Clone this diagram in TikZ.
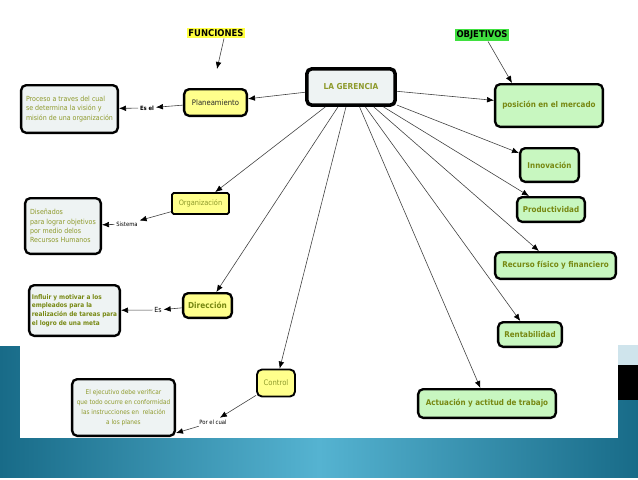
\documentclass[tikz,border=0pt]{standalone}
\usepackage{fontspec}
\setmainfont{DejaVu Sans Condensed}
\usetikzlibrary{positioning,arrows.meta,calc}

\definecolor{oliva}{HTML}{8E9A2C}
\definecolor{olivaosc}{HTML}{778812}
\definecolor{gris}{HTML}{EEF3F3}
\definecolor{amarillo}{HTML}{FFFF8C}
\definecolor{verde}{HTML}{C8F7C0}
\definecolor{resalteam}{HTML}{FFFF40}
\definecolor{resaltever}{HTML}{3FE03F}
\definecolor{azulosc}{HTML}{186B88}
\definecolor{azulcla}{HTML}{55B3D1}
\definecolor{celeste}{HTML}{CFE4EC}

\begin{document}
\begin{tikzpicture}[
  x=0.3mm, y=-0.3mm,
  every node/.style={font=\fontsize{6}{8}\selectfont},
  caja/.style={draw, line width=2pt, rounded corners=1.5mm, fill=gris, text=oliva, inner sep=2pt, align=center},
  defi/.style={caja, align=left},
  fun/.style={caja, fill=amarillo},
  obj/.style={caja, fill=verde, text=olivaosc, font=\fontsize{6.8}{8}\selectfont\bfseries},
  lbl/.style={inner sep=1.5pt, font=\fontsize{5}{6}\selectfont},
  tit/.style={inner sep=1.5pt, font=\fontsize{8}{9}\selectfont\bfseries},
  arr/.style={-{Latex[length=2.1mm,width=1.7mm,color=black]}, line width=0.5pt, black!75},
]
\useasboundingbox (0,0) rectangle (638,479);
% fondo de la diapositiva
\fill[white] (0,0) rectangle (638,479);
\shade[left color=azulosc, right color=azulosc, middle color=azulcla] (0,346) rectangle (638,477);
\fill[celeste] (618,345) rectangle (638,365);
\fill[black] (618,365) rectangle (638,400);
\fill[white] (20,0) rectangle (618,438);

% centro
\node[caja, line width=3pt, minimum width=26.5mm, minimum height=10.9mm, font=\fontsize{7}{8}\selectfont\bfseries] (ger) at (351,87) {LA GERENCIA};

% funciones
\node[tit, fill=resalteam] (funt) at (216,33) {FUNCIONES};
\coordinate (fpunta) at (217,69);
\node[fun, text=black!85, font=\fontsize{6.5}{8}\selectfont, minimum width=18.8mm, minimum height=8mm] (plan) at (215.5,102.5) {Planeamiento};
\node[fun, line width=1.6pt, rounded corners=0.5mm, font=\fontsize{6.3}{8}\selectfont, minimum width=17.1mm, minimum height=6.3mm] (org) at (200.5,203.5) {Organización};
\node[fun, text=olivaosc, font=\fontsize{7}{8}\selectfont\bfseries, minimum width=14.6mm, minimum height=7.4mm] (dir) at (207.5,305.5) {Dirección};
\node[fun, line width=1.6pt, font=\fontsize{6.5}{8}\selectfont, minimum width=11.4mm, minimum height=8.1mm] (ctrl) at (276,383) {Control};

\node[defi, minimum width=29mm, minimum height=14.3mm] (proc) at (69.5,109) {Proceso a traves del cual\\se determina la visión y\\misión de una organización};
\node[defi, minimum width=22.7mm, minimum height=16.7mm] (dis) at (63,226) {Diseñados\\para lograr objetivos\\por medio delos\\Recursos Humanos};
\node[defi, text=olivaosc, font=\fontsize{5.5}{7.5}\selectfont\bfseries, minimum width=27.2mm, minimum height=15.2mm] (infl) at (74.5,310.5) {Influir y motivar a los\\empleados para la\\realización de tareas para\\el logro de una meta};
\node[caja, font=\fontsize{5.5}{8.5}\selectfont, minimum width=30.8mm, minimum height=17mm] (ejec) at (123.5,407.5) {El ejecutivo debe verificar\\que todo ocurre en conformidad\\las instrucciones en\ \ relación\\a los planes};

\node[lbl, font=\fontsize{5}{6}\selectfont\bfseries] (esel) at (147,108) {Es el};
\node[lbl] (sist) at (127,224) {Sistema};
\node[lbl, font=\fontsize{6}{7}\selectfont] (es) at (158,310) {Es};
\node[lbl] (porel) at (213,422) {Por el cual};

% objetivos
\node[tit, fill=resaltever] (objt) at (482,35) {OBJETIVOS};
\node[obj, minimum width=32.3mm, minimum height=12.8mm] (pos) at (549,105.5) {posición en el mercado};
\node[obj, minimum width=17.6mm, minimum height=10.1mm] (inno) at (549.5,165) {Innovación};
\node[obj, minimum width=20.3mm, minimum height=7.4mm] (prod) at (551,209.5) {Productividad};
\node[obj, minimum width=36.2mm, minimum height=8mm] (recu) at (555.5,265.5) {Recurso físico y financiero};
\node[obj, minimum width=19.1mm, minimum height=7.4mm] (rent) at (530,334.5) {Rentabilidad};
\node[obj, minimum width=41.3mm, minimum height=8.6mm] (actu) at (487,403.5) {Actuación y actitud de trabajo};

% conectores
\draw[arr] ([xshift=2.4mm]funt.south) -- (fpunta);
\draw[arr] ([xshift=1.8mm]objt.south) -- ([xshift=5.4mm]pos.north west);
\draw[arr] (ger) -- (plan);
\draw[arr] (ger) -- (org);
\draw[arr] (ger) -- (dir);
\draw[arr] (ger) -- (ctrl);
\draw[arr] (ger) -- (pos);
\draw[arr] (ger) -- (inno);
\draw[arr] (ger) -- (prod);
\draw[arr] (ger) -- (recu);
\draw[arr] (ger) -- (rent);
\draw[arr] (ger) -- (actu);
\draw[arr] (plan) -- (esel);
\draw[arr] (esel) -- (proc);
\draw[arr] (org) -- (sist);
\draw[arr] (sist) -- (dis);
\draw[arr] (dir) -- (es);
\draw[arr] (es) -- (infl);
\draw[arr] (ctrl) -- (porel);
\draw[arr] (porel) -- ([yshift=1.2mm]ejec.south east);
\end{tikzpicture}
\end{document}
